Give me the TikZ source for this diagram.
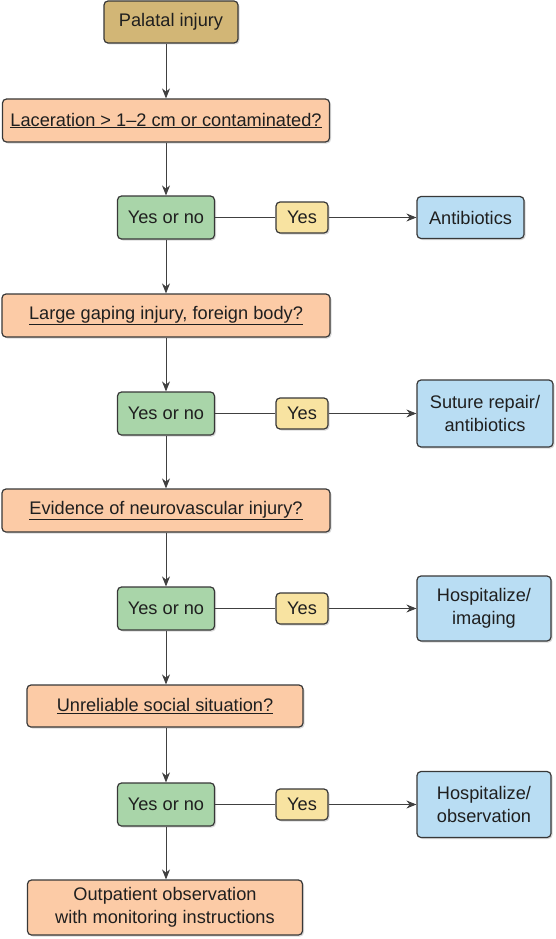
\documentclass[tikz,border=0pt]{standalone}
\usepackage{fontspec}
\setmainfont{Liberation Sans}
\usetikzlibrary{arrows.meta,shadows}
\definecolor{startfill}{HTML}{D2B676}
\definecolor{askfill}{HTML}{FCCBA6}
\definecolor{choicefill}{HTML}{A9D5A9}
\definecolor{yesfill}{HTML}{F8E3A1}
\definecolor{actfill}{HTML}{B9DDF3}
\begin{document}
\begin{tikzpicture}[x=1pt,y=-1pt,
  box/.style={draw=black!78, line width=1.2pt, rounded corners=4pt, inner sep=0pt, align=center,
    text=black!88, font=\fontsize{18.2}{23}\selectfont,
    drop shadow={shadow xshift=1.5pt, shadow yshift=-1.5pt, fill=black!30}},
  startbox/.style={box, fill=startfill, minimum width=134pt, minimum height=42pt},
  askbox/.style={box, fill=askfill, minimum height=43pt},
  choicebox/.style={box, fill=choicefill, minimum width=97pt, minimum height=43pt},
  yesbox/.style={box, fill=yesfill, minimum width=52pt, minimum height=31pt},
  actbox/.style={box, fill=actfill, minimum width=134pt},
  link/.style={draw=black!75, line width=0.9pt},
  flow/.style={link, -{Stealth[length=10pt,width=8pt]}}]
\useasboundingbox (0,0) rectangle (555,939);
\node (palatal) at (171,22) [startbox] {Palatal injury};
\node (laceration) at (166,120.5) [askbox, minimum width=327pt] {\underline{Laceration > 1–2 cm or contaminated?}};
\node (choiceA) at (166,217.5) [choicebox] {Yes or no};
\node (yesA) at (302,217.5) [yesbox] {Yes};
\node (antibiotics) at (470.5,217.5) [actbox, minimum width=107pt, minimum height=42pt] {Antibiotics};
\node (gaping) at (166,315.5) [askbox, minimum width=328pt] {\underline{Large gaping injury, foreign body?}};
\node (choiceB) at (166,413.5) [choicebox] {Yes or no};
\node (yesB) at (302,413.5) [yesbox] {Yes};
\node (suture) at (485,413.5) [actbox, minimum width=136pt, minimum height=67pt] {Suture repair/\\antibiotics};
\node (neuro) at (166,510.5) [askbox, minimum width=328pt] {\underline{Evidence of neurovascular injury?}};
\node (choiceC) at (166,608.5) [choicebox] {Yes or no};
\node (yesC) at (302,608.5) [yesbox] {Yes};
\node (imaging) at (484,608.5) [actbox, minimum height=65pt] {Hospitalize/\\imaging};
\node (social) at (165,706) [askbox, minimum width=276pt, minimum height=42pt] {\underline{Unreliable social situation?}};
\node (choiceD) at (166,804.5) [choicebox] {Yes or no};
\node (yesD) at (302,804.5) [yesbox] {Yes};
\node (observation) at (484,804.5) [actbox, minimum height=66pt] {Hospitalize/\\observation};
\node (outpatient) at (165,907.5) [box, fill=askfill, minimum width=275pt, minimum height=55pt] {Outpatient observation\\with monitoring instructions};
\draw [flow] (palatal.south -| laceration) -- (laceration);
\draw [flow] (laceration) -- (choiceA);
\draw [flow] (choiceA) -- (gaping);
\draw [flow] (gaping) -- (choiceB);
\draw [flow] (choiceB) -- (neuro);
\draw [flow] (neuro) -- (choiceC);
\draw [flow] (choiceC) -- (social.north -| choiceC);
\draw [flow] (social.south -| choiceD) -- (choiceD);
\draw [flow] (choiceD) -- (outpatient.north -| choiceD);
\draw [link] (choiceA) -- (yesA);
\draw [flow] (yesA) -- (antibiotics);
\draw [link] (choiceB) -- (yesB);
\draw [flow] (yesB) -- (suture);
\draw [link] (choiceC) -- (yesC);
\draw [flow] (yesC) -- (imaging);
\draw [link] (choiceD) -- (yesD);
\draw [flow] (yesD) -- (observation);
\end{tikzpicture}
\end{document}
